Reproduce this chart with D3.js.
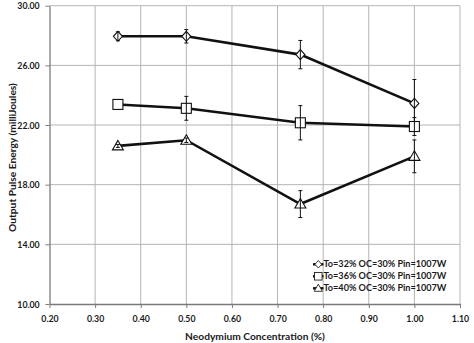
<!DOCTYPE html>
<html><head><meta charset="utf-8">
<script src="https://cdn.jsdelivr.net/npm/d3@7"></script>
<style>body{margin:0;background:#fff}svg{display:block}text{font-family:"Lato","Liberation Sans",sans-serif;font-weight:bold;fill:#1a1a1a}</style>
</head><body><svg id="c" width="474" height="343"></svg>
<script>
const concentrations = [0.35, 0.50, 0.75, 1.00];
const seriesNames = ["To=32% OC=30% Pin=1007W", "To=36% OC=30% Pin=1007W", "To=40% OC=30% Pin=1007W"];
const energy32 = [27.95, 27.95, 26.72, 23.45];
const error32 = [0.3, 0.45, 0.95, 1.6];
const energy36 = [23.38, 23.12, 22.15, 21.9];
const error36 = [0, 0.8, 1.15, 0.6];
const energy40 = [20.6, 20.98, 16.7, 19.9];
const error40 = [0.1, 0.15, 0.9, 1.1];
const markerTypes = ["diamond", "square", "triangle"];
const xTicks = [0.20,0.30,0.40,0.50,0.60,0.70,0.80,0.90,1.00,1.10];
const yTicks = [10,14,18,22,26,30];
const xTitle = "Neodymium Concentration (%)";
const yTitle = "Output Pulse Energy (milliJoules)";

const svg = d3.select("#c");
const L = 49.5, R = 460, T = 5.7, B = 304;
const x = d3.scaleLinear().domain([0.2, 1.1]).range([L, R]);
const y = d3.scaleLinear().domain([10, 30]).range([B, T]);

// fit a text element's font size so its rendered length matches a target
function fit(sel, target) {
  const n = sel.node();
  const fs = parseFloat(sel.attr("font-size"));
  const w = n.getComputedTextLength();
  if (w > 0) sel.attr("font-size", (fs * target / w).toFixed(2));
}

// grid
svg.append("g").selectAll("line").data(xTicks.slice(1)).join("line")
  .attr("x1", d => x(d)).attr("x2", d => x(d)).attr("y1", T).attr("y2", B)
  .attr("stroke", "#b4b4b4").attr("stroke-width", 1);
svg.append("g").selectAll("line").data(yTicks.slice(1)).join("line")
  .attr("x1", L).attr("x2", R).attr("y1", d => y(d)).attr("y2", d => y(d))
  .attr("stroke", "#b4b4b4").attr("stroke-width", 1);

// axes
const xAxis = d3.axisBottom(x).tickValues(xTicks).tickFormat(d3.format(".2f")).tickSize(4).tickSizeOuter(0);
const gx = svg.append("g").attr("transform", `translate(0,${B})`).call(xAxis);
gx.select(".domain").attr("stroke", "#7a7a7a").attr("stroke-width", 1.3);
gx.selectAll(".tick line").attr("stroke", "#7a7a7a");
gx.selectAll("text").attr("font-size", 9.5).attr("dy", "0.35em").attr("y", 15.3);
const yAxis = d3.axisLeft(y).tickValues(yTicks).tickFormat(d3.format(".2f")).tickSize(4).tickSizeOuter(0);
const gy = svg.append("g").attr("transform", `translate(${L},0)`).call(yAxis);
gy.select(".domain").attr("stroke", "#7a7a7a").attr("stroke-width", 1.3);
gy.selectAll(".tick line").attr("stroke", "#7a7a7a");
gy.selectAll("text").attr("font-size", 9.5).attr("x", -9.8).attr("dy", "0.35em");
svg.selectAll(".tick text").attr("fill", "#1a1a1a").attr("font-family", "Lato, 'Liberation Sans', sans-serif").attr("font-weight", "bold");
fit(gy.select(".tick:last-of-type text"), 22.4);
const tickFs = gy.select(".tick:last-of-type text").attr("font-size");
svg.selectAll(".tick text").attr("font-size", tickFs);

const xt = svg.append("text").attr("x", 255).attr("y", 339.5).attr("text-anchor", "middle").attr("font-size", 10).text(xTitle);
fit(xt, 140);
const yt = svg.append("text").attr("transform", `translate(16,157.5) rotate(-90)`).attr("text-anchor", "middle").attr("font-size", 10).text(yTitle);
fit(yt, 149);

const series = [
  {vals: energy32, errs: error32, m: markerTypes[0], name: seriesNames[0]},
  {vals: energy36, errs: error36, m: markerTypes[1], name: seriesNames[1]},
  {vals: energy40, errs: error40, m: markerTypes[2], name: seriesNames[2]},
];

function marker(g, type, cx, cy) {
  if (type === "diamond") {
    g.append("path").attr("d", `M${cx},${cy-5}L${cx+4.5},${cy}L${cx},${cy+5}L${cx-4.5},${cy}Z`)
      .attr("fill", "#fff").attr("stroke", "#111").attr("stroke-width", 1.1);
  } else if (type === "square") {
    g.append("rect").attr("x", cx - 5).attr("y", cy - 5).attr("width", 10).attr("height", 10)
      .attr("fill", "#fff").attr("stroke", "#111").attr("stroke-width", 1.1);
  } else {
    g.append("path").attr("d", `M${cx},${cy-5.5}L${cx+5.5},${cy+4}L${cx-5.5},${cy+4}Z`)
      .attr("fill", "#fff").attr("stroke", "#111").attr("stroke-width", 1.1);
  }
}

const line = d3.line().x((d, i) => x(concentrations[i])).y(d => y(d));
series.forEach(s => {
  const g = svg.append("g");
  g.append("path").datum(s.vals).attr("d", line).attr("fill", "none").attr("stroke", "#111").attr("stroke-width", 2.6);
  s.vals.forEach((v, i) => marker(g, s.m, x(concentrations[i]), y(v)));
  s.vals.forEach((v, i) => {
    const e = s.errs[i]; if (!e) return;
    const cx = x(concentrations[i]);
    g.append("line").attr("x1", cx).attr("x2", cx).attr("y1", y(v + e)).attr("y2", y(v - e)).attr("stroke", "#111").attr("stroke-width", 1);
    [v + e, v - e].forEach(w => g.append("line").attr("x1", cx - 2).attr("x2", cx + 2).attr("y1", y(w)).attr("y2", y(w)).attr("stroke", "#111").attr("stroke-width", 1));
  });
});

// legend
const lg = svg.append("g");
series.forEach((s, i) => {
  const ly = 264.3 + i * 12;
  lg.append("line").attr("x1", 313).attr("x2", 323.5).attr("y1", ly).attr("y2", ly).attr("stroke", "#111").attr("stroke-width", 2.4);
  const mg = lg.append("g").attr("transform", `translate(${318.3},${ly}) scale(0.75) translate(${-318.3},${-ly})`);
  marker(mg, s.m, 318.3, ly);
  const t = lg.append("text").attr("x", 323.5).attr("y", ly).attr("dy", "0.35em").attr("font-size", 9.5).text(s.name);
  fit(t, 123);
});
</script></body></html>
